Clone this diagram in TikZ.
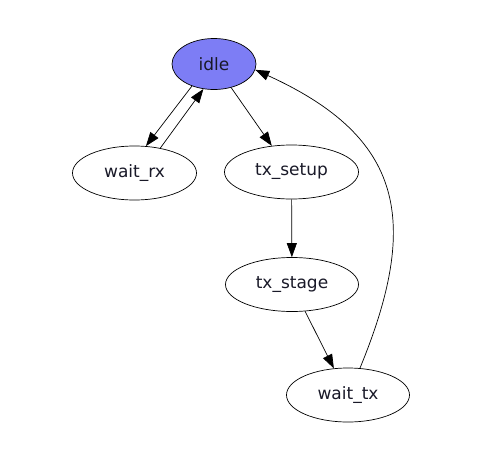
\documentclass[tikz,border=0pt]{standalone}
\usepackage{fontspec}
\setmainfont{DejaVu Sans}
\usetikzlibrary{shapes.geometric,arrows.meta}
\definecolor{idlefill}{RGB}{125,125,245}
\definecolor{txt}{RGB}{25,25,40}
\tikzset{
  state/.style={ellipse,draw=black,line width=0.7pt,inner sep=0pt,minimum height=54pt,text=txt,font=\fontsize{17}{20}\selectfont},
  edge/.style={draw=black,line width=0.7pt,-{Triangle[length=14pt,width=10pt]}}
}
\begin{document}
\begin{tikzpicture}[x=1pt,y=-1pt]
\useasboundingbox[fill=white] (0,0) rectangle (485,450);
\node[state,fill=idlefill,minimum width=84pt,minimum height=51pt] (idle) at (214,64) {idle};
\node[state,minimum width=124pt] (wrx) at (134.5,173) {wait\_rx};
\node[state,minimum width=134pt] (txs) at (291.5,172) {tx\_setup};
\node[state,minimum width=133pt] (txg) at (292,284.5) {tx\_stage};
\node[state,minimum width=123pt] (wtx) at (348,395) {wait\_tx};
\draw[edge] (idle.225) -- (wrx.67);
\draw[edge] (wrx.44) -- (idle.247);
\draw[edge] (idle.306) -- (txs.127);
\draw[edge] (txs) -- (txg);
\draw[edge] (txg.296) -- (wtx.118);
\draw[edge] (wtx.66) .. controls (421,220) and (403,137) .. (idle.352);
\end{tikzpicture}
\end{document}
